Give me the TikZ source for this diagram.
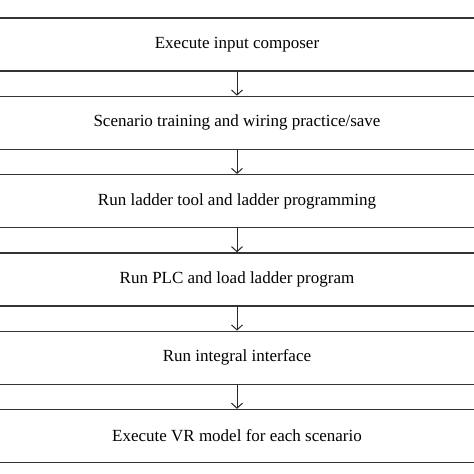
\documentclass[tikz,border=0pt]{standalone}
\usepackage{fontspec}
\setmainfont{Liberation Serif}
\usetikzlibrary{positioning,arrows.meta}
\begin{document}
\begin{tikzpicture}[x=1pt,y=1pt,node distance=24pt,
        step box/.style={draw=black!80,line width=1.3pt,minimum width=500pt,
            minimum height=53pt,inner sep=0pt,font=\fontsize{17}{20}\selectfont},
        flow/.style={draw=black!85,line width=1pt,-{Straight Barb[length=5pt,width=11pt]}}]
    \useasboundingbox (0,0) rectangle (474,-474);
    \clip (0,0) rectangle (474,-474);
    % Steps
    \node[step box] (exec) at (237,-44.5) {Execute input composer};
    \node[step box,below=of exec] (train) {Scenario training and wiring practice/save};
    \node[step box,below=of train] (ladder) {Run ladder tool and ladder programming};
    \node[step box,below=of ladder] (plc) {Run PLC and load ladder program};
    \node[step box,below=of plc] (integral) {Run integral interface};
    \node[step box,below=of integral] (vr) {Execute VR model for each scenario};
    % Arrows
    \foreach \a/\b in {exec/train,train/ladder,ladder/plc,plc/integral,integral/vr}
        \draw[flow] (\a) -- (\b);
\end{tikzpicture}
\end{document}
